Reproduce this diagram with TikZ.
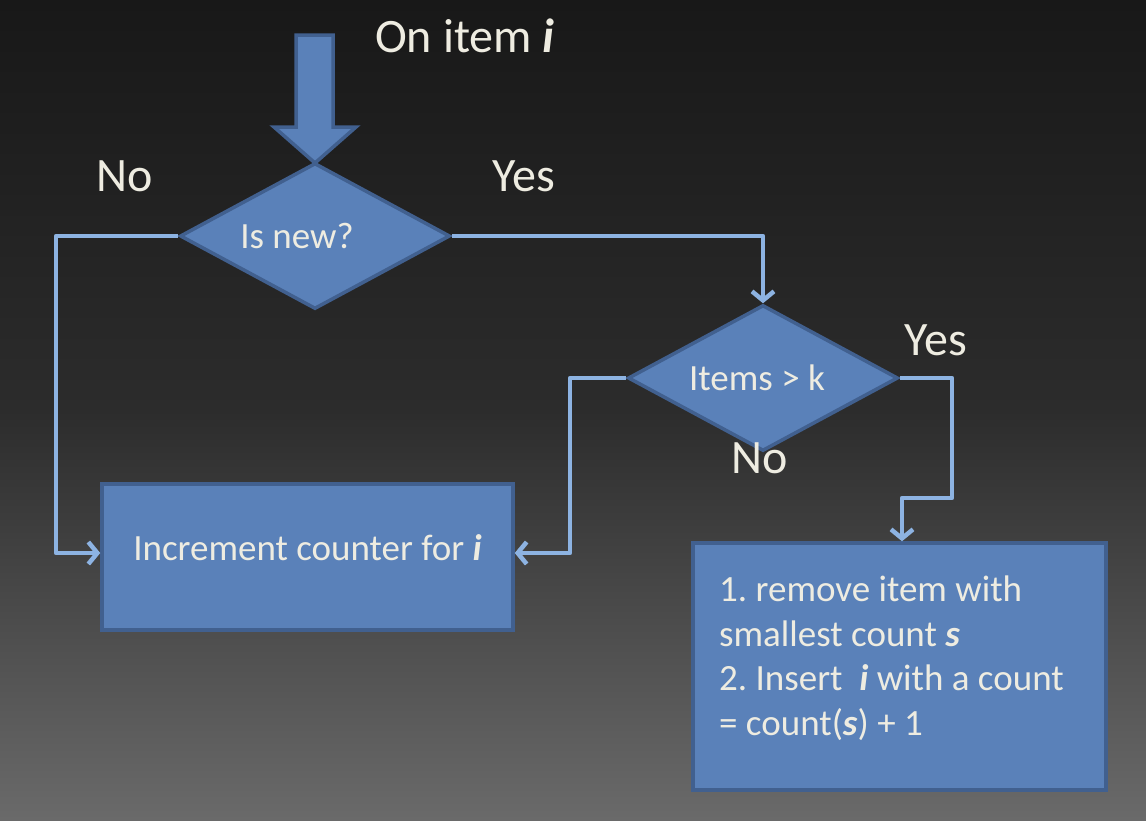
\documentclass[tikz,border=0pt]{standalone}
\usepackage{fontspec}
\setmainfont{Carlito}
\usetikzlibrary{shapes.geometric,arrows.meta}
\definecolor{bgtop}{HTML}{181818}
\definecolor{bgmid}{HTML}{2C2C2C}
\definecolor{bgbot}{HTML}{6A6A6A}
\definecolor{shapefill}{HTML}{5A81B9}
\definecolor{shapeline}{HTML}{41608F}
\definecolor{conn}{HTML}{8DB3E2}
\definecolor{txt}{HTML}{EEECE1}
\frenchspacing
\tikzset{
  decision/.style={diamond, fill=shapefill, draw=shapeline, line width=3.5pt, inner sep=0pt,
    minimum width=270pt, minimum height=146pt, aspect=1.85},
  procbox/.style={rectangle, fill=shapefill, draw=shapeline, line width=3.5pt, inner sep=0pt},
  nodetext/.style={text=txt, font=\fontsize{37}{44.5}\selectfont, inner sep=0pt},
  lbl/.style={text=txt, font=\fontsize{48}{54}\selectfont, inner sep=0pt},
  conn/.style={draw=conn, line width=4.5pt, line join=round,
    -{Straight Barb[length=9pt,width=22pt,line width=4.5pt]}},
}
\begin{document}
\begin{tikzpicture}[x=1pt,y=-1pt]
  % background
  \shade[top color=bgtop, bottom color=bgbot, middle color=bgmid] (0,0) rectangle (1146,820);
  \useasboundingbox (0,0) rectangle (1146,820);

  % block arrow
  \draw[fill=shapefill, draw=shapeline, line width=3.5pt, line join=miter]
    (296,35) -- (333,35) -- (333,127) -- (356,127) -- (315,163) -- (274,127) -- (296,127) -- cycle;

  % decisions
  \node[decision] (isnew) at (315,236) {};
  \node[nodetext] (isnewt) at (297,236) {Is new?};
  \node[decision] (itemsk) at (763,378) {};
  \node[nodetext] (itemskt) at (757,378) {Items > k};

  % boxes
  \node[procbox, minimum width=411pt, minimum height=146pt] (inc) at (307.5,557) {};
  \node[nodetext, anchor=base] (inct) at (307.5,560) {Increment counter for \textbf{\textit{i}}};
  \node[procbox, minimum width=413pt, minimum height=247pt] (rem) at (899.5,666.5) {};
  \node[nodetext, anchor=base west, align=left] (remt) at (719,735)
    {1. remove item with\\smallest count \textbf{\textit{s}}\\2. Insert~ \textbf{\textit{i}} with a count\\= count(\textbf{\textit{s}}) + 1};

  % labels
  \node[lbl, anchor=base west] (onitem) at (375,52) {On item \textbf{\textit{i}}};
  \node[lbl] (no1) at (125,176) {No};
  \node[lbl] (yes1) at (524,176) {Yes};
  \node[lbl] (yes2) at (936,340) {Yes};
  \node[lbl] (no2) at (760,458) {No};

  % connectors
  \coordinate (c1) at (56,236);
  \coordinate (c2) at (56,553);
  \draw[conn] (isnew.west) -- (c1) -- (c2) -- (inc.west |- c2);
  \coordinate (c3) at (763,236);
  \draw[conn] (isnew.east) -- (c3) -- (itemsk.north);
  \coordinate (c4) at (570,378);
  \coordinate (c5) at (570,553);
  \draw[conn] (itemsk.west) -- (c4) -- (c5) -- (inc.east |- c5);
  \coordinate (c6) at (952,378);
  \coordinate (c7) at (952,498);
  \coordinate (c8) at (902,498);
  \draw[conn] (itemsk.east) -- (c6) -- (c7) -- (c8) -- (rem.north -| c8);
\end{tikzpicture}
\end{document}
